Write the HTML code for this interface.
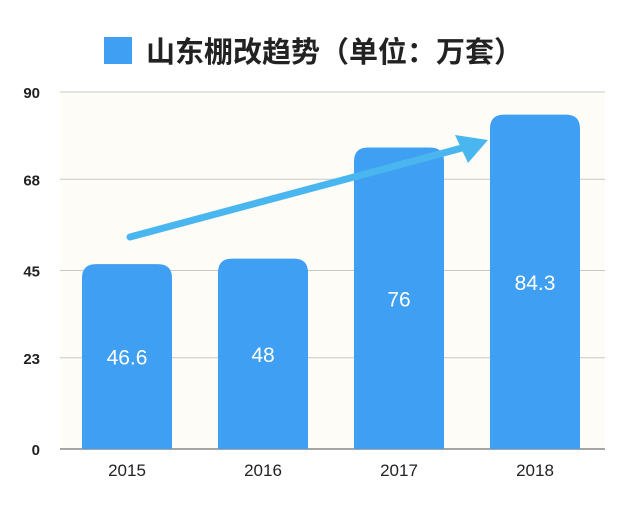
<!DOCTYPE html>
<html><head><meta charset="utf-8"><style>
body{margin:0;background:#fff;width:640px;height:510px;overflow:hidden}
svg{display:block}
text{font-family:"Liberation Sans","Noto Sans CJK SC",sans-serif}
</style></head><body>
<svg id="c" width="640" height="510">
<rect x="60" y="92" width="545" height="357" fill="#fdfcf6"/>
<rect x="104" y="37" width="28" height="27" fill="#3f9ff2"/>
<text x="146" y="62" font-size="29" font-weight="bold" fill="#222">山东棚改趋势（单位：万套）</text>
<g id="grid"></g><g id="bars"></g>
<g>
<line x1="130" y1="237" x2="462" y2="148" stroke="#4ab6f0" stroke-width="7" stroke-linecap="round"/>
<polygon points="488,140 455,135 468,163" fill="#4ab6f0"/>
</g>
</svg>
<script>
const categories=["2015","2016","2017","2018"];
const values=[46.6,48,76,84.3];
const labels=["46.6","48","76","84.3"];
const ticks=[0,23,45,68,90];
const NS="http://www.w3.org/2000/svg";
const y=v=>449-v*(357/90);
const x=i=>82+i*136;
const svg=document.getElementById('c'),grid=document.getElementById('grid'),bars=document.getElementById('bars');
function mk(t,a,p){const e=document.createElementNS(NS,t);for(const k in a)e.setAttribute(k,a[k]);p.appendChild(e);return e;}
ticks.forEach(t=>{
 const l=mk('line',{x1:60,x2:605,y1:y(t),y2:y(t),stroke:t===0?'#888':'#c8c8c8','stroke-width':t===0?1.5:1},grid);
 
 
 const tx=mk('text',{x:40,y:y(t)+6,'text-anchor':'end','font-size':15,'font-weight':'bold',fill:'#222'},grid);
 tx.textContent=t;
 
 
});
values.forEach((v,i)=>{
 const x0=x(i),w=90,top=y(v),b=449,r=14;
 const p=mk('path',{d:`M${x0},${b}V${top+r}Q${x0},${top} ${x0+r},${top}H${x0+w-r}Q${x0+w},${top} ${x0+w},${top+r}V${b}Z`,fill:'#3f9ff2'},bars);
 
 
 const t=mk('text',{x:x0+w/2,y:(top+b)/2+8,'text-anchor':'middle','font-size':21,fill:'#fff'},bars);
 t.textContent=labels[i];
 
 
 const c=mk('text',{x:x0+w/2,y:476,'text-anchor':'middle','font-size':17,fill:'#222'},bars);
 c.textContent=categories[i];
 
 
});
</script>
</body></html>
